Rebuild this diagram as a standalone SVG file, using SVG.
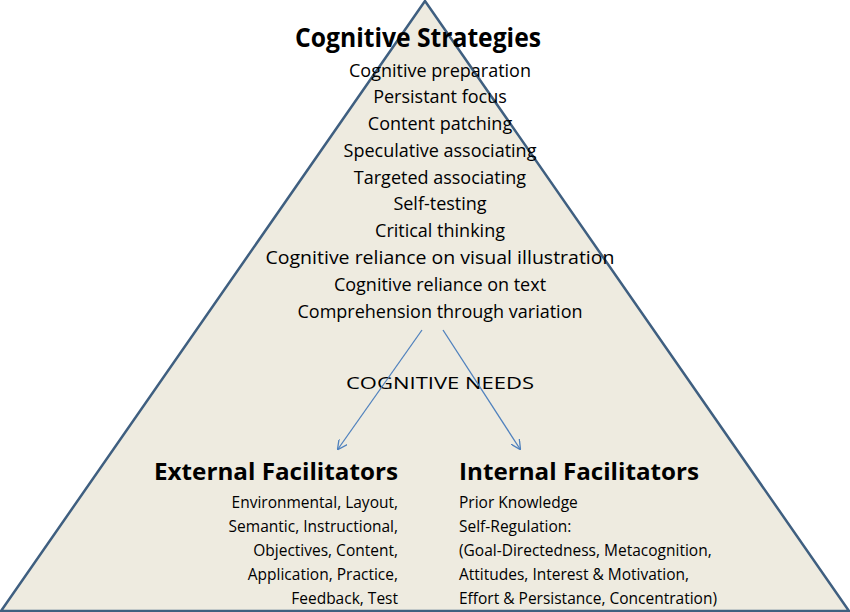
<svg xmlns="http://www.w3.org/2000/svg" width="850" height="612" viewBox="0 0 850 612">
<style>
.t{font-family:"Open Sans","Liberation Sans",sans-serif;fill:#000}
.h{font-size:27px;font-weight:bold;text-anchor:middle}
.i{font-size:18px;text-anchor:middle}
.s{font-size:15.5px}
.c{stroke:#4F81BD;stroke-width:1.3;fill:none}
</style>
<defs><marker id="a" viewBox="0 0 10 10" refX="9" refY="5" markerWidth="10" markerHeight="10" markerUnits="userSpaceOnUse" orient="auto"><path d="M0,0 L10,5 L0,10" fill="none" stroke="#4F81BD" stroke-width="1.3"/></marker></defs>
<g id="pyramid"><polygon points="425,1 1,611 849,611" fill="#EEEBE0" stroke="#3F5F80" stroke-width="2.5"/></g>
<g id="strategies" class="t">
<text class="t h" x="418" y="47" textLength="246" lengthAdjust="spacingAndGlyphs">Cognitive Strategies</text>
<text class="t i" x="440" y="77">Cognitive preparation</text>
<text class="t i" x="440" y="103">Persistant focus</text>
<text class="t i" x="440" y="130">Content patching</text>
<text class="t i" x="440" y="157">Speculative associating</text>
<text class="t i" x="440" y="184">Targeted associating</text>
<text class="t i" x="440" y="210">Self-testing</text>
<text class="t i" x="440" y="237">Critical thinking</text>
<text class="t i" x="440" y="264" textLength="349" lengthAdjust="spacingAndGlyphs">Cognitive reliance on visual illustration</text>
<text class="t i" x="440" y="291">Cognitive reliance on text</text>
<text class="t i" x="440" y="318">Comprehension through variation</text>
</g>
<g id="needs"><text class="t" x="440" y="389" text-anchor="middle" font-size="17" font-family="Lato,'Liberation Sans',sans-serif" textLength="188" lengthAdjust="spacingAndGlyphs">COGNITIVE  NEEDS</text></g>
<g id="connectors">
<line class="c" x1="422" y1="330" x2="338" y2="449" marker-end="url(#a)"/>
<line class="c" x1="443" y1="330" x2="520" y2="449" marker-end="url(#a)"/>
</g>
<g id="external" class="t">
<text class="t" x="398" y="480" font-size="24" font-weight="bold" text-anchor="end" textLength="244" lengthAdjust="spacingAndGlyphs">External Facilitators</text>
<g class="s" text-anchor="end">
<text class="t s" x="398" y="508">Environmental, Layout,</text>
<text class="t s" x="398" y="532">Semantic, Instructional,</text>
<text class="t s" x="398" y="556">Objectives, Content,</text>
<text class="t s" x="398" y="580">Application, Practice,</text>
<text class="t s" x="398" y="604">Feedback, Test</text>
</g></g>
<g id="internal" class="t">
<text class="t" x="459" y="480" font-size="24" font-weight="bold" textLength="240" lengthAdjust="spacingAndGlyphs">Internal Facilitators</text>
<text class="t s" x="459" y="508">Prior Knowledge</text>
<text class="t s" x="459" y="532">Self-Regulation:</text>
<text class="t s" x="459" y="556">(Goal-Directedness, Metacognition,</text>
<text class="t s" x="459" y="580">Attitudes, Interest &amp; Motivation,</text>
<text class="t s" x="459" y="604">Effort &amp; Persistance, Concentration)</text>
</g>
</svg>
